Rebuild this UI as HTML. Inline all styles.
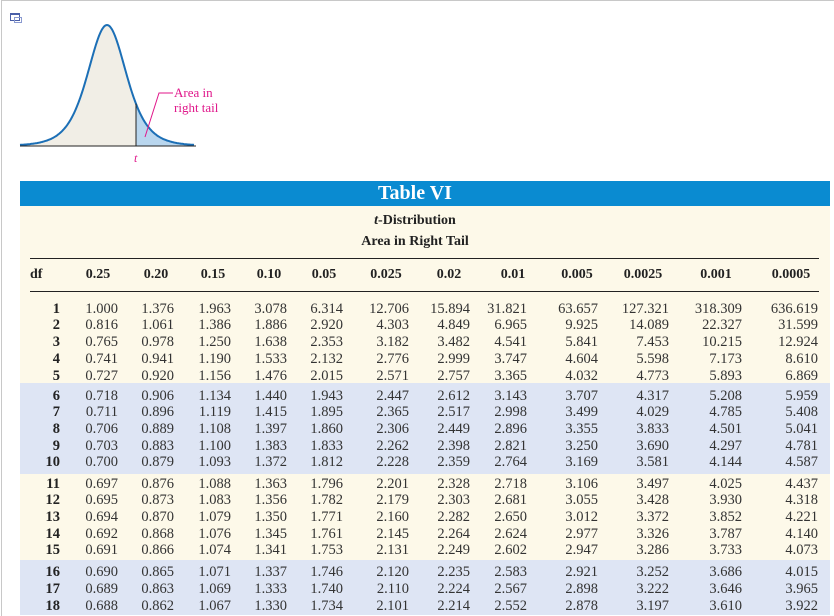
<!DOCTYPE html>
<html><head><meta charset="utf-8"><style>
body{margin:0;width:834px;height:616px;overflow:hidden;background:#fff;position:relative;font-family:"Liberation Serif",serif;}
.abs{position:absolute;}
.num{position:absolute;font-size:14.5px;color:#333;text-align:right;width:70px;line-height:17px;}
.dfc{position:absolute;font-size:14.5px;font-weight:bold;color:#222;text-align:right;width:40px;line-height:17px;}
.hdr{position:absolute;font-size:14px;font-weight:bold;color:#222;text-align:center;width:70px;}
</style></head><body>
<div class="abs" style="left:1px;top:0;width:1px;height:616px;background:#c8c8c8"></div>
<div class="abs" style="left:1px;top:0;width:833px;height:1px;background:#c8c8c8"></div>
<div class="abs" style="left:10px;top:13px;width:8px;height:5px;border:1px solid #4a5fa8;border-top-width:2px"></div>
<div class="abs" style="left:14px;top:17px;width:6px;height:4px;border:1px solid #8a9ad0"></div>

<svg class="abs" style="left:0;top:0" width="240" height="170">
<path id="bodyfill" fill="#f1eee6"/>
<path id="tailfill" fill="#b9d6ee"/>
<path id="curve" fill="none" stroke="#1c6fb6" stroke-width="2"/>
<line x1="20" y1="146" x2="196" y2="146" stroke="#222" stroke-width="1"/>
<line id="tline" x1="136" x2="136" y2="146" stroke="#222" stroke-width="1"/>
<polyline points="173,93 159,93 145,137" fill="none" stroke="#e0168a" stroke-width="1"/>
<text x="174" y="97" font-family="Liberation Serif" font-size="13" fill="#e0168a">Area in</text>
<text x="174" y="112" font-family="Liberation Serif" font-size="13" fill="#e0168a">right tail</text>
<text x="134" y="162" font-family="Liberation Serif" font-size="12" font-style="italic" fill="#e0168a">t</text>
</svg>

<div class="abs" style="left:20px;top:181px;width:810px;height:25px;background:#0a8bd1;"></div>
<div class="abs" style="left:20px;top:180px;width:790px;text-align:center;color:#fff;font-weight:bold;font-size:20px;line-height:26px;">Table VI</div>
<div class="abs" style="left:20px;top:206px;width:810px;height:177px;background:#fdf9e9"></div>
<div class="abs" style="left:20px;top:383px;width:810px;height:91px;background:#dee5f4"></div>
<div class="abs" style="left:20px;top:474px;width:810px;height:86px;background:#fdf9e9"></div>
<div class="abs" style="left:20px;top:560px;width:810px;height:55px;background:#dee5f4"></div>

<div class="abs" style="left:20px;top:213px;width:790px;text-align:center;font-weight:bold;font-size:14px;color:#222"><i>t</i>-Distribution</div>
<div class="abs" style="left:20px;top:234px;width:790px;text-align:center;font-weight:bold;font-size:14px;color:#222">Area in Right Tail</div>
<div class="abs" style="left:30px;top:258px;width:789px;height:1px;background:#222"></div>
<div class="abs" style="left:30px;top:291px;width:789px;height:1px;background:#222"></div>
<div class="abs" style="left:30px;top:267px;font-weight:bold;font-size:14px;color:#222">df</div>
<div id="tbl"></div>

<script>
const alphas=["0.25","0.20","0.15","0.10","0.05","0.025","0.02","0.01","0.005","0.0025","0.001","0.0005"];
const dfs=[1,2,3,4,5,6,7,8,9,10,11,12,13,14,15,16,17,18];
const r1=["1.000","1.376","1.963","3.078","6.314","12.706","15.894","31.821","63.657","127.321","318.309","636.619"];
const r2=["0.816","1.061","1.386","1.886","2.920","4.303","4.849","6.965","9.925","14.089","22.327","31.599"];
const r3=["0.765","0.978","1.250","1.638","2.353","3.182","3.482","4.541","5.841","7.453","10.215","12.924"];
const r4=["0.741","0.941","1.190","1.533","2.132","2.776","2.999","3.747","4.604","5.598","7.173","8.610"];
const r5=["0.727","0.920","1.156","1.476","2.015","2.571","2.757","3.365","4.032","4.773","5.893","6.869"];
const r6=["0.718","0.906","1.134","1.440","1.943","2.447","2.612","3.143","3.707","4.317","5.208","5.959"];
const r7=["0.711","0.896","1.119","1.415","1.895","2.365","2.517","2.998","3.499","4.029","4.785","5.408"];
const r8=["0.706","0.889","1.108","1.397","1.860","2.306","2.449","2.896","3.355","3.833","4.501","5.041"];
const r9=["0.703","0.883","1.100","1.383","1.833","2.262","2.398","2.821","3.250","3.690","4.297","4.781"];
const r10=["0.700","0.879","1.093","1.372","1.812","2.228","2.359","2.764","3.169","3.581","4.144","4.587"];
const r11=["0.697","0.876","1.088","1.363","1.796","2.201","2.328","2.718","3.106","3.497","4.025","4.437"];
const r12=["0.695","0.873","1.083","1.356","1.782","2.179","2.303","2.681","3.055","3.428","3.930","4.318"];
const r13=["0.694","0.870","1.079","1.350","1.771","2.160","2.282","2.650","3.012","3.372","3.852","4.221"];
const r14=["0.692","0.868","1.076","1.345","1.761","2.145","2.264","2.624","2.977","3.326","3.787","4.140"];
const r15=["0.691","0.866","1.074","1.341","1.753","2.131","2.249","2.602","2.947","3.286","3.733","4.073"];
const r16=["0.690","0.865","1.071","1.337","1.746","2.120","2.235","2.583","2.921","3.252","3.686","4.015"];
const r17=["0.689","0.863","1.069","1.333","1.740","2.110","2.224","2.567","2.898","3.222","3.646","3.965"];
const r18=["0.688","0.862","1.067","1.330","1.734","2.101","2.214","2.552","2.878","3.197","3.610","3.922"];
const rows=[r1,r2,r3,r4,r5,r6,r7,r8,r9,r10,r11,r12,r13,r14,r15,r16,r17,r18];

const colRight=[118,174,231,287,343,409,470,527,598,669,742,818];
const colCenter=[98,156,213,269,324,386,449,513,577,643,716,791];
function rowY(i){
  const g=Math.floor(i/5);
  let extra=0;
  if(g>=1)extra+=3.3;
  if(g>=2)extra+=4.5;
  if(g>=3)extra+=5.2;
  return 308.2+i*16.7+extra-7.5;
}
const tbl=document.getElementById('tbl');
alphas.forEach((a,j)=>{
  const d=document.createElement('div');
  d.className='hdr';
  
  
  d.style.left=(colCenter[j]-35)+'px';d.style.top='267px';d.textContent=a;tbl.appendChild(d);
});
rows.forEach((r,i)=>{
  const y=rowY(i);
  const d=document.createElement('div');
  d.className='dfc';
  
  
  d.style.left='20px';d.style.top=y+'px';d.textContent=dfs[i];tbl.appendChild(d);
  r.forEach((v,j)=>{
    const c=document.createElement('div');
    c.className='num';
    
    
    c.style.left=(colRight[j]-70)+'px';c.style.top=y+'px';c.textContent=v;tbl.appendChild(c);
  });
});

const base=146,peakX=107,peakH=121,tX=136;
function f(x){const z=(x-peakX)/20;return peakH*Math.pow(1+z*z/5,-3);}
let pts=[];
for(let x=20;x<=194;x+=1){pts.push([x,base-f(x)]);}
const p='M'+pts.map(q=>q[0]+','+q[1].toFixed(1)).join(' L');
document.getElementById('curve').setAttribute('d',p);
const bp=pts.filter(q=>q[0]<=tX);
document.getElementById('bodyfill').setAttribute('d','M20,'+base+' L'+bp.map(q=>q[0]+','+q[1].toFixed(1)).join(' L')+' L'+tX+','+base+'Z');
const tp=pts.filter(q=>q[0]>=tX);
document.getElementById('tailfill').setAttribute('d','M'+tX+','+base+' L'+tp.map(q=>q[0]+','+q[1].toFixed(1)).join(' L')+' L194,'+base+'Z');
document.getElementById('tline').setAttribute('y1',(base-f(tX)).toFixed(1));
</script>
</body></html>
